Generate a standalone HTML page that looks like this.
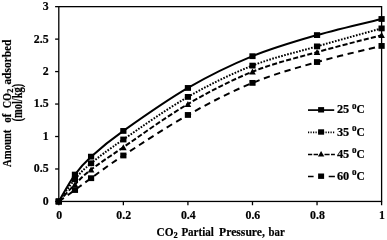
<!DOCTYPE html>
<html><head><meta charset="utf-8"><title>CO2 adsorption isotherms</title>
<style>
html,body{margin:0;padding:0;background:#fff;}
svg{display:block;}
.t{font-family:"Liberation Serif",serif;font-weight:bold;font-size:13px;fill:#000;stroke:#000;stroke-width:0.2px;}
</style></head><body>
<svg width="387" height="240" viewBox="0 0 387 240">
<rect width="387" height="240" fill="#fff"/>
<g fill="none" stroke="#000" stroke-width="1.3">
<rect x="58.80" y="6.65" width="322.80" height="194.80"/>
<path d="M55.10 201.45 H58.80"/>
<path d="M55.10 168.98 H58.80"/>
<path d="M55.10 136.52 H58.80"/>
<path d="M55.10 104.05 H58.80"/>
<path d="M55.10 71.58 H58.80"/>
<path d="M55.10 39.12 H58.80"/>
<path d="M55.10 6.65 H58.80"/>
<path d="M58.80 201.45 V205.25"/>
<path d="M123.36 201.45 V205.25"/>
<path d="M187.92 201.45 V205.25"/>
<path d="M252.48 201.45 V205.25"/>
<path d="M317.04 201.45 V205.25"/>
<path d="M381.60 201.45 V205.25"/>
</g>
<path d="M58.80 201.45 C61.49 199.55 69.56 193.90 74.94 190.02 C80.32 186.15 83.01 183.96 91.08 178.20 C99.15 172.45 107.22 166.02 123.36 155.48 C139.50 144.94 166.40 127.06 187.92 114.96 C209.44 102.86 230.96 91.70 252.48 82.88 C274.00 74.06 295.52 68.20 317.04 62.04 C338.56 55.88 370.84 48.62 381.60 45.93" fill="none" stroke="#000" stroke-width="2.0" stroke-dasharray="6.3 4.6"/>
<g fill="#000"><rect x="55.70" y="198.55" width="6.20" height="5.80"/><rect x="71.84" y="187.12" width="6.20" height="5.80"/><rect x="87.98" y="175.30" width="6.20" height="5.80"/><rect x="120.26" y="152.58" width="6.20" height="5.80"/><rect x="184.82" y="112.06" width="6.20" height="5.80"/><rect x="249.38" y="79.98" width="6.20" height="5.80"/><rect x="313.94" y="59.14" width="6.20" height="5.80"/><rect x="378.50" y="43.03" width="6.20" height="5.80"/></g>
<path d="M58.80 201.45 C61.49 198.60 69.56 189.68 74.94 184.37 C80.32 179.07 83.01 175.82 91.08 169.63 C99.15 163.44 107.22 158.16 123.36 147.23 C139.50 136.30 166.40 116.64 187.92 104.05 C209.44 91.46 230.96 80.37 252.48 71.71 C274.00 63.06 295.52 58.19 317.04 52.10 C338.56 46.02 370.84 38.03 381.60 35.22" fill="none" stroke="#000" stroke-width="2.0" stroke-dasharray="5.1 2.2"/>
<g fill="#000"><path d="M58.80 198.35 L62.10 204.35 L55.50 204.35 Z"/><path d="M74.94 181.27 L78.24 187.27 L71.64 187.27 Z"/><path d="M91.08 166.53 L94.38 172.53 L87.78 172.53 Z"/><path d="M123.36 144.13 L126.66 150.13 L120.06 150.13 Z"/><path d="M187.92 100.95 L191.22 106.95 L184.62 106.95 Z"/><path d="M252.48 68.61 L255.78 74.61 L249.18 74.61 Z"/><path d="M317.04 49.00 L320.34 55.00 L313.74 55.00 Z"/><path d="M381.60 32.12 L384.90 38.12 L378.30 38.12 Z"/></g>
<path d="M58.80 201.45 C61.49 197.75 69.56 185.61 74.94 179.24 C80.32 172.88 83.01 169.89 91.08 163.27 C99.15 156.65 107.22 150.56 123.36 139.50 C139.50 128.44 166.40 109.22 187.92 96.91 C209.44 84.59 230.96 74.03 252.48 65.61 C274.00 57.19 295.52 52.59 317.04 46.39 C338.56 40.19 370.84 31.40 381.60 28.40" fill="none" stroke="#000" stroke-width="2.0" stroke-dasharray="1.65 1.45"/>
<g fill="#000"><rect x="55.70" y="198.55" width="6.20" height="5.80"/><rect x="71.84" y="176.34" width="6.20" height="5.80"/><rect x="87.98" y="160.37" width="6.20" height="5.80"/><rect x="120.26" y="136.60" width="6.20" height="5.80"/><rect x="184.82" y="94.01" width="6.20" height="5.80"/><rect x="249.38" y="62.71" width="6.20" height="5.80"/><rect x="313.94" y="43.49" width="6.20" height="5.80"/><rect x="378.50" y="25.50" width="6.20" height="5.80"/></g>
<path d="M58.80 201.45 C61.49 196.97 69.56 182.03 74.94 174.57 C80.32 167.10 83.01 163.92 91.08 156.65 C99.15 149.37 107.22 142.38 123.36 130.93 C139.50 119.48 166.40 100.40 187.92 87.95 C209.44 75.49 230.96 65.00 252.48 56.19 C274.00 47.38 295.52 41.29 317.04 35.09 C338.56 28.89 370.84 21.67 381.60 18.99" fill="none" stroke="#000" stroke-width="2.0" />
<g fill="#000"><rect x="55.70" y="198.55" width="6.20" height="5.80"/><rect x="71.84" y="171.67" width="6.20" height="5.80"/><rect x="87.98" y="153.75" width="6.20" height="5.80"/><rect x="120.26" y="128.03" width="6.20" height="5.80"/><rect x="184.82" y="85.05" width="6.20" height="5.80"/><rect x="249.38" y="53.29" width="6.20" height="5.80"/><rect x="313.94" y="32.19" width="6.20" height="5.80"/><rect x="378.50" y="16.09" width="6.20" height="5.80"/></g>
<path d="M308.00 110.10 H334.20" fill="none" stroke="#000" stroke-width="1.7"/>
<g fill="#000"><rect x="318.10" y="107.10" width="6.00" height="5.40"/></g>
<text class="t" transform="translate(336.90 113.40) scale(0.950 1)" style="font-size:12.8px" textLength="12.95" lengthAdjust="spacingAndGlyphs">25</text>
<text class="t" transform="translate(351.90 108.70) scale(0.950 1)" style="font-size:9.6px">o</text>
<text class="t" transform="translate(356.50 113.40) scale(0.900 1)" style="font-size:12.8px">C</text>
<path d="M308.00 132.30 H309.20 M310.50 132.30 H311.70 M313.00 132.30 H314.20 M315.50 132.30 H316.70 M318.00 132.30 H319.20 M320.50 132.30 H321.70 M323.00 132.30 H324.20 M325.50 132.30 H326.70 M328.00 132.30 H329.20 M330.50 132.30 H331.70 M333.00 132.30 H334.20" fill="none" stroke="#000" stroke-width="1.7"/>
<g fill="#000"><rect x="318.10" y="129.30" width="6.00" height="5.40"/></g>
<text class="t" transform="translate(336.90 135.60) scale(0.950 1)" style="font-size:12.8px" textLength="12.95" lengthAdjust="spacingAndGlyphs">35</text>
<text class="t" transform="translate(351.90 130.90) scale(0.950 1)" style="font-size:9.6px">o</text>
<text class="t" transform="translate(356.50 135.60) scale(0.900 1)" style="font-size:12.8px">C</text>
<path d="M308.00 154.50 H312.20 M313.60 154.50 H318.00 M324.50 154.50 H329.60 M331.00 154.50 H334.90" fill="none" stroke="#000" stroke-width="1.7"/>
<g fill="#000"><path d="M321.10 151.00 L324.30 156.60 L317.90 156.60 Z"/></g>
<text class="t" transform="translate(336.90 157.80) scale(0.950 1)" style="font-size:12.8px" textLength="12.95" lengthAdjust="spacingAndGlyphs">45</text>
<text class="t" transform="translate(351.90 153.10) scale(0.950 1)" style="font-size:9.6px">o</text>
<text class="t" transform="translate(356.50 157.80) scale(0.900 1)" style="font-size:12.8px">C</text>
<path d="M308.00 176.50 H313.60 M328.70 176.50 H334.90" fill="none" stroke="#000" stroke-width="1.7"/>
<g fill="#000"><rect x="318.10" y="173.50" width="6.00" height="5.40"/></g>
<text class="t" transform="translate(336.90 179.80) scale(0.950 1)" style="font-size:12.8px" textLength="12.95" lengthAdjust="spacingAndGlyphs">60</text>
<text class="t" transform="translate(351.90 175.10) scale(0.950 1)" style="font-size:9.6px">o</text>
<text class="t" transform="translate(356.50 179.80) scale(0.900 1)" style="font-size:12.8px">C</text>
<text class="t" transform="translate(48.60 204.85) scale(0.920 1)" style="font-size:12.9px" text-anchor="end">0</text>
<text class="t" transform="translate(48.60 172.38) scale(0.920 1)" style="font-size:12.9px" text-anchor="end">0.5</text>
<text class="t" transform="translate(48.60 139.92) scale(0.920 1)" style="font-size:12.9px" text-anchor="end">1</text>
<text class="t" transform="translate(48.60 107.45) scale(0.920 1)" style="font-size:12.9px" text-anchor="end">1.5</text>
<text class="t" transform="translate(48.60 74.98) scale(0.920 1)" style="font-size:12.9px" text-anchor="end">2</text>
<text class="t" transform="translate(48.60 42.52) scale(0.920 1)" style="font-size:12.9px" text-anchor="end">2.5</text>
<text class="t" transform="translate(48.60 10.05) scale(0.920 1)" style="font-size:12.9px" text-anchor="end">3</text>
<text class="t" transform="translate(59.20 218.90) scale(0.920 1)" style="font-size:12.9px" text-anchor="middle">0</text>
<text class="t" transform="translate(123.76 218.90) scale(0.920 1)" style="font-size:12.9px" text-anchor="middle">0.2</text>
<text class="t" transform="translate(188.32 218.90) scale(0.920 1)" style="font-size:12.9px" text-anchor="middle">0.4</text>
<text class="t" transform="translate(252.88 218.90) scale(0.920 1)" style="font-size:12.9px" text-anchor="middle">0.6</text>
<text class="t" transform="translate(317.44 218.90) scale(0.920 1)" style="font-size:12.9px" text-anchor="middle">0.8</text>
<text class="t" transform="translate(382.00 218.90) scale(0.920 1)" style="font-size:12.9px" text-anchor="middle">1</text>
<text class="t" transform="translate(156.50 235.80) scale(0.890 1)" style="font-size:13.0px" textLength="19.10" lengthAdjust="spacingAndGlyphs">CO</text>
<text class="t" transform="translate(173.50 237.90) scale(1.000 1)" style="font-size:8.4px">2</text>
<text class="t" transform="translate(181.40 235.80) scale(0.890 1)" style="font-size:13.0px" textLength="36.40" lengthAdjust="spacingAndGlyphs">Partial</text>
<text class="t" transform="translate(219.10 235.80) scale(0.890 1)" style="font-size:13.0px" textLength="51.46" lengthAdjust="spacingAndGlyphs">Pressure,</text>
<text class="t" transform="translate(268.50 235.80) scale(0.890 1)" style="font-size:13.0px" textLength="18.20" lengthAdjust="spacingAndGlyphs">bar</text>
<text class="t" transform="translate(11.30 166.90) rotate(-90)" style="font-size:13.3px" textLength="37.30" lengthAdjust="spacingAndGlyphs">Amount</text>
<text class="t" transform="translate(11.30 122.70) rotate(-90)" style="font-size:13.3px" textLength="9.00" lengthAdjust="spacingAndGlyphs">of</text>
<text class="t" transform="translate(11.30 108.30) rotate(-90)" style="font-size:13.3px" textLength="15.30" lengthAdjust="spacingAndGlyphs">CO</text>
<text class="t" transform="translate(13.30 92.70) rotate(-90)" style="font-size:8px" textLength="4.20" lengthAdjust="spacingAndGlyphs">2</text>
<text class="t" transform="translate(11.30 84.60) rotate(-90)" style="font-size:13.3px" textLength="45.00" lengthAdjust="spacingAndGlyphs">adsorbed</text>
<text class="t" transform="translate(22.30 121.50) rotate(-90)" style="font-size:13.8px" textLength="37.80" lengthAdjust="spacingAndGlyphs">(mol/kg)</text>
</svg>
</body></html>
